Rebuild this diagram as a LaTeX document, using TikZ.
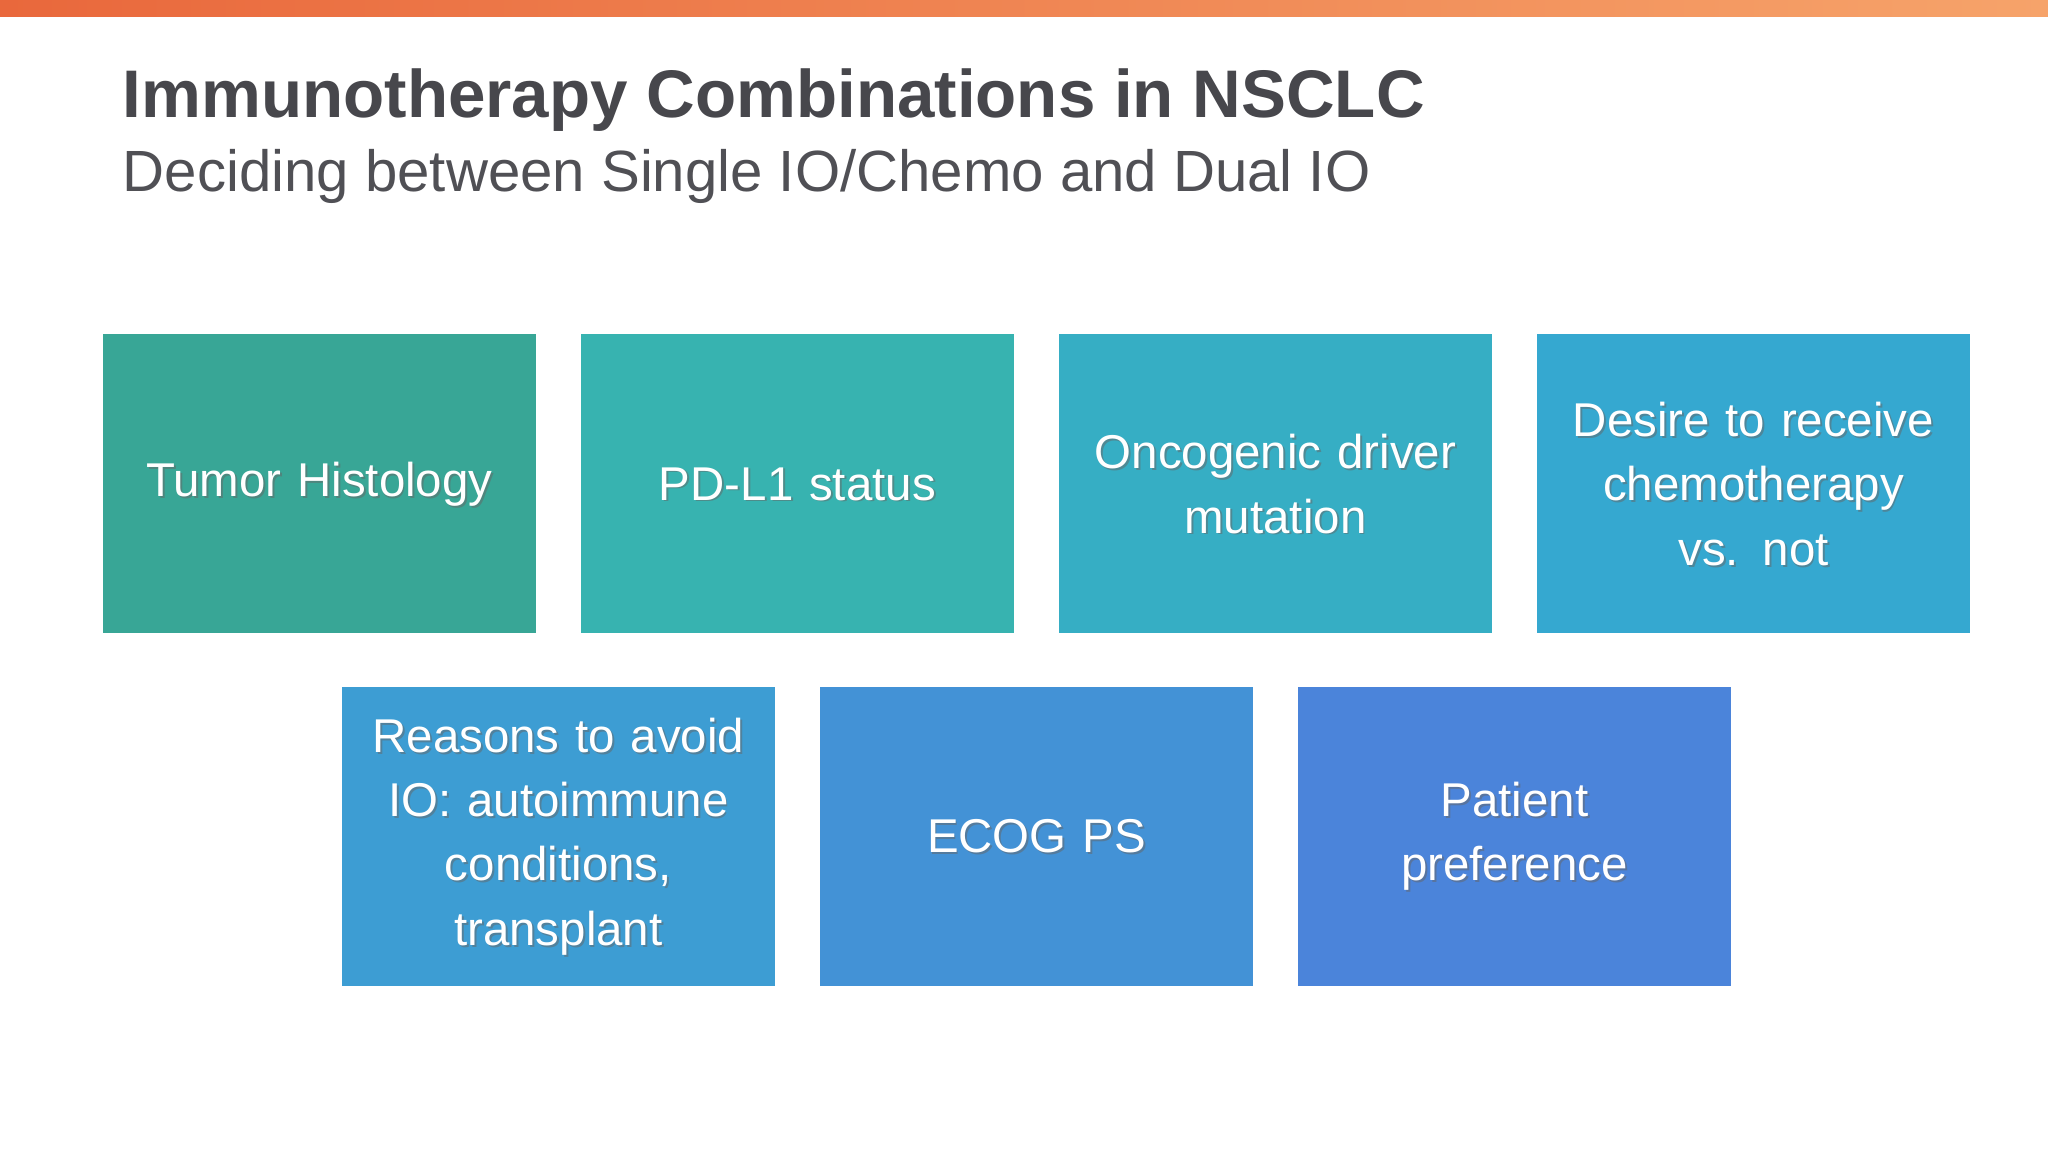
\documentclass[tikz,border=0pt]{standalone}
\usepackage{fontspec}
\setmainfont{Liberation Sans}
\usetikzlibrary{positioning,shadows}
\definecolor{titlegray}{HTML}{47474C}
\definecolor{subgray}{HTML}{505055}
\definecolor{cA}{HTML}{38A696}
\definecolor{cB}{HTML}{37B3B0}
\definecolor{cC}{HTML}{36AEC4}
\definecolor{cD}{HTML}{35A8D0}
\definecolor{cE}{HTML}{3D9DD3}
\definecolor{cF}{HTML}{4392D6}
\definecolor{cG}{HTML}{4B84DA}
\definecolor{barL}{HTML}{E9683C}
\definecolor{barR}{HTML}{F6A36A}
\tikzset{
  tile/.style={minimum width=9.93cm, minimum height=6.87cm, inner sep=0pt,
    text width=9cm, align=center, text=white,
    font=\fontsize{31}{42}\selectfont},
  shadowtext/.style={text=black!60, opacity=0.5}
}
\begin{document}
\begin{tikzpicture}[x=0.03cm,y=-0.03cm]
\useasboundingbox (0,0) rectangle (1568,882);
\fill[white] (0,0) rectangle (1568,882);
\shade[left color=barL, right color=barR] (0,0) rectangle (1568,13);

\node (title) at (90,77)[anchor=west, text=titlegray, font=\bfseries\fontsize{44}{50}\selectfont]{Immunotherapy Combinations in NSCLC};
\node (sub) at (90,135)[anchor=west, text=subgray, font=\fontsize{38}{44}\selectfont]{Deciding between Single IO/Chemo and Dual IO};

\foreach \n/\x/\y/\c/\t in {
  hist/244.5/370.5/cA/{Tumor Histology},
  pdl/610.5/370.5/cB/{PD-L1 status},
  onco/976.5/370.5/cC/{Oncogenic driver\\mutation},
  chemo/1342.5/370.5/cD/{Desire to receive\\chemotherapy\\vs. not},
  avoid/427.5/640.5/cE/{Reasons to avoid\\IO: autoimmune\\conditions,\\transplant},
  ecog/793.5/640.5/cF/{ECOG PS},
  pref/1159.5/640.5/cG/{Patient\\preference}}
{
\node (\n) at (\x,\y)[tile, fill=\c]{};
\node (\n s) at (\x+1.5,\y+1.5)[tile, shadowtext]{\t};
\node (\n t) at (\x,\y)[tile]{\t};
}
\end{tikzpicture}
\end{document}
